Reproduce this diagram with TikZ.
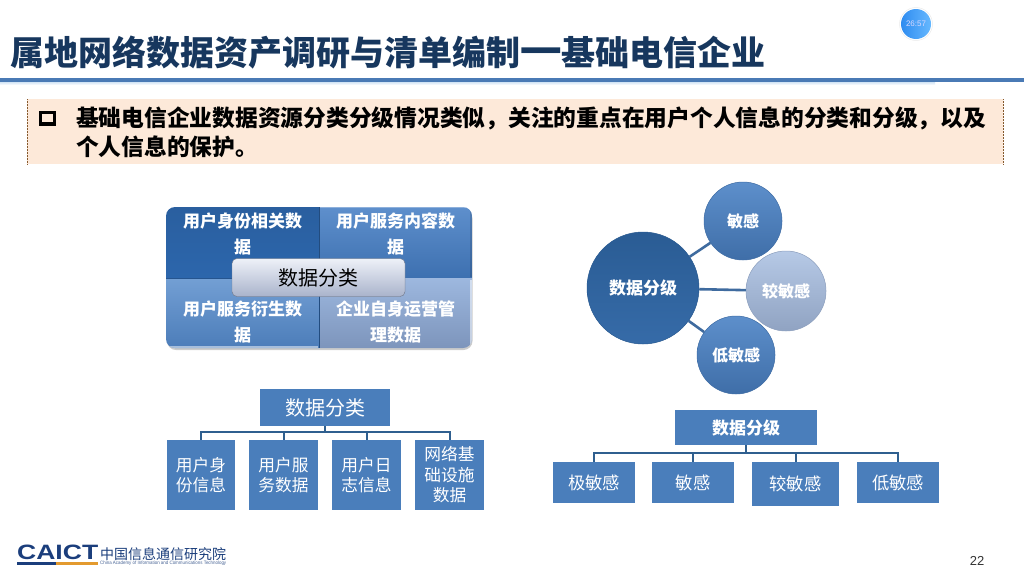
\documentclass[tikz,border=0pt]{standalone}
\usepackage{graphicx}
\usepackage{fontspec}
\setmainfont{Noto Sans CJK SC}
\newfontfamily\latinsans{Liberation Sans}
\usetikzlibrary{shadows,shadings,calc}
\definecolor{titleblue}{HTML}{17375E}
\definecolor{boxblue}{HTML}{4A7EBB}
\definecolor{busblue}{HTML}{2F5F8F}
\definecolor{bandfill}{HTML}{FDE9D9}
\definecolor{ruleblue}{HTML}{4A7AB5}
\definecolor{rulelight}{HTML}{C5DCF2}
\definecolor{tla}{HTML}{2A5F9F}\definecolor{tlb}{HTML}{2C66AC}
\definecolor{tra}{HTML}{5E8FCC}\definecolor{trb}{HTML}{3D70B0}
\definecolor{bla}{HTML}{739FD4}\definecolor{blb}{HTML}{4C7DB9}
\definecolor{bra}{HTML}{9DB8DF}\definecolor{brb}{HTML}{7D95BC}
\definecolor{pilla}{HTML}{EEF1F8}\definecolor{pillb}{HTML}{A9B3CB}
\definecolor{bigA}{HTML}{2A5C94}\definecolor{bigB}{HTML}{366BA8}
\definecolor{midA}{HTML}{5D8FCB}\definecolor{midB}{HTML}{3F6EA8}
\definecolor{paleA}{HTML}{B6C9E6}\definecolor{paleB}{HTML}{90A3C2}
\definecolor{logoblue}{HTML}{1B3E7C}
\definecolor{logoorange}{HTML}{E39A2E}
\definecolor{timerA}{HTML}{2F8CF0}
\definecolor{timerB}{HTML}{66B8FF}
\tikzset{
  x=1pt,y=-1pt,
  softshadow/.style={general shadow={fill=black,opacity=.28,shift={(0.6pt,-1.8pt)}}},
  orgbox/.style={rectangle,fill=boxblue,text=white,align=center,inner sep=0pt,softshadow},
  orgbus/.style={draw=busblue,line width=2pt},
  ball/.style={circle,inner sep=0pt,text=white,font=\fontsize{16}{16}\selectfont\bfseries,softshadow},
  spoke/.style={draw=boxblue!85!black,line width=2.6pt},
  quadtext/.style={inner sep=0pt,align=center,text=white,font=\fontsize{17}{26}\selectfont\bfseries},
  childfont/.style={font=\fontsize{16.7}{20.5}\selectfont},
}
\newcommand{\orgrect}[7]{% name, x1, y1, x2, y2, font style, text
  \node[orgbox,#6,minimum width={(#4-#2)*1pt},minimum height={(#5-#3)*1pt}] (#1) at ({(#2+#4)/2},{(#3+#5)/2}) {#7};}
\begin{document}
\begin{tikzpicture}
\useasboundingbox (0,0) rectangle (1024,576);
\fill[white] (0,0) rectangle (1024,576);

% title
\node[anchor=west,inner sep=0pt,text=titleblue,font=\fontsize{34}{34}\selectfont\bfseries] (title) at (10,53) {属地网络数据资产调研与清单编制\kern-1pt\scalebox{1.4}[1.5]{—}\kern-1pt基础电信企业};
\fill[top color=rulelight,bottom color=white] (0,81) rectangle (935,85);
\fill[ruleblue] (0,78) rectangle (1024,81.5);

% timer
\node[circle,fill=white,draw=black!8,line width=.5pt,minimum size=33pt,inner sep=0pt] (timerhalo) at (916,24) {};
\node[circle,inner sep=0pt,minimum size=30pt,left color=timerA,right color=timerB,text=white!85!blue,font=\latinsans\fontsize{8}{8}\selectfont] (timer) at (916,24) {26:57};

% band
\fill[bandfill] (27,99) rectangle (1003,164);
\draw[densely dotted,draw=brown!70!black,line width=.5pt] (27.5,99) -- (27.5,164);
\draw[densely dotted,draw=brown!70!black,line width=.5pt] (1003,99) -- (1003,164);
\draw[black,line width=3.2pt] (40.8,112.2) rectangle (54.2,124);
\node[anchor=north west,inner sep=0pt,align=left,text=black,font=\fontsize{22.75}{29}\selectfont\bfseries] (body) at (76,107) {基础电信企业数据资源分类分级情况类似，关注的重点在用户个人信息的分类和分级，以及\\个人信息的保护。};

% classification panel
\fill[black,opacity=.2,rounded corners=9pt] (167,209.5) rectangle (472.5,350);
\begin{scope}
\clip[rounded corners=9pt] (166,207) rectangle (472,348);
\shade[top color=tla,bottom color=tlb] (166,207) rectangle (319,278);
\shade[top color=tra,bottom color=trb] (319,207) rectangle (472,278);
\shade[top color=bla,bottom color=blb] (166,278) rectangle (319,348);
\shade[top color=bra,bottom color=brb] (319,278) rectangle (472,348);
\draw[tla!80!black,line width=.8pt] (319,207) -- (319,348);
\draw[tla!90!black,line width=.8pt] (166,278) -- (319,278);
\draw[white,opacity=.3,line width=2pt] (320,207) -- (472,207);
\draw[white,opacity=.5,line width=2.5pt] (170,347) -- (318,347);
\draw[white,opacity=.55,line width=2.5pt] (471,280) -- (471,346);
\draw[black,opacity=.12,line width=2pt] (471,210) -- (471,277);
\end{scope}
\node[quadtext] (q1) at (242.5,234) {用户身份相关数\\据};
\node[quadtext] (q2) at (395.5,234) {用户服务内容数\\据};
\node[quadtext] (q3) at (242.5,322) {用户服务衍生数\\据};
\node[quadtext] (q4) at (395.5,322) {企业自身运营管\\理数据};
\node[rounded corners=5pt,top color=pilla,bottom color=pillb,draw=pillb!70!black,line width=.4pt,softshadow,text=black,inner sep=0pt,minimum width=173pt,minimum height=38pt,font=\fontsize{20}{20}\selectfont] (pill) at (318.5,277.5) {数据分类};

% grading circles
\node[ball,top color=midA,bottom color=midB,draw=midB,line width=.5pt,minimum size=78pt] (s1) at (743,221) {敏感};
\node[ball,top color=paleA,bottom color=paleB,minimum size=80pt,draw=paleB,line width=.5pt] (s2) at (786,291) {较敏感};
\node[ball,top color=midA,bottom color=midB,draw=midB,line width=.5pt,minimum size=78pt] (s3) at (736,355) {低敏感};
\node[ball,top color=bigA,bottom color=bigB,draw=bigA,line width=.5pt,minimum size=112pt,font=\fontsize{17}{17}\selectfont\bfseries] (hub) at (643,288) {数据分级};
\draw[spoke] (hub) -- (s1);
\draw[spoke] (hub) -- (s2);
\draw[spoke] (hub) -- (s3);

% lower left tree
\orgrect{ca}{260}{389}{390}{426}{font=\fontsize{20}{20}\selectfont}{数据分类}
\orgrect{c1}{167}{440}{235}{510}{childfont}{用户身\\份信息}
\orgrect{c2}{249}{440}{318}{510}{childfont}{用户服\\务数据}
\orgrect{c3}{332}{440}{401}{510}{childfont}{用户日\\志信息}
\orgrect{c4}{415}{440}{484}{510}{childfont}{网络基\\础设施\\数据}
\coordinate (cbus) at (325,432);
\draw[orgbus] (ca.south) -- (cbus);
\draw[orgbus] (c1.north) |- (cbus);
\draw[orgbus] (c2.north) |- (cbus);
\draw[orgbus] (c3.north) |- (cbus);
\draw[orgbus] (c4.north) |- (cbus);

% lower right tree
\orgrect{ga}{675}{410}{817}{445}{font=\fontsize{17}{17}\selectfont\bfseries}{数据分级}
\orgrect{g1}{553}{462}{635}{503}{font=\fontsize{17.3}{17}\selectfont}{极敏感}
\orgrect{g2}{652}{462}{734}{503}{font=\fontsize{17.3}{17}\selectfont}{敏感}
\orgrect{g3}{752}{462}{839}{506}{font=\fontsize{17.3}{17}\selectfont}{较敏感}
\orgrect{g4}{857}{462}{939}{503}{font=\fontsize{17.3}{17}\selectfont}{低敏感}
\coordinate (gbus) at (746,453);
\draw[orgbus] (ga.south) -- (gbus);
\draw[orgbus] (g1.north) |- (gbus);
\draw[orgbus] (g2.north) |- (gbus);
\draw[orgbus] (g3.north) |- (gbus);
\draw[orgbus] (g4.north) |- (gbus);

% footer logo
\node[anchor=south west,inner sep=0pt,text=logoblue] (caict) at (17,559.5) {\resizebox{81pt}{14.5pt}{\latinsans\bfseries CAICT}};
\fill[logoblue] (17,562) rectangle (56,564.5);
\fill[logoorange] (56,562) rectangle (98,564.5);
\node[anchor=west,inner sep=0pt,text=logoblue,font=\fontsize{14}{14}\selectfont] (cn) at (100,554) {中国信息通信研究院};
\node[anchor=west,inner sep=0pt,text=logoblue!80,font=\latinsans] (en) at (100,563.5) {\resizebox{126pt}{3.5pt}{China Academy of Information and Communications Technology}};
\node[inner sep=0pt,text=black!80,font=\latinsans\fontsize{13}{13}\selectfont] (page) at (977,561) {22};
\end{tikzpicture}
\end{document}
